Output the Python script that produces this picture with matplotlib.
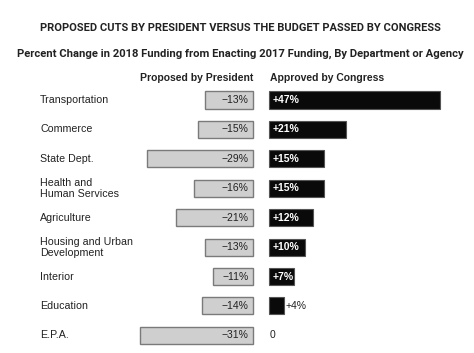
import matplotlib.pyplot as plt

depts = ['Transportation', 'Commerce', 'State Dept.', 'Health and\nHuman Services',
         'Agriculture', 'Housing and Urban\nDevelopment', 'Interior', 'Education', 'E.P.A.']
president = [-13, -15, -29, -16, -21, -13, -11, -14, -31]
congress = [47, 21, 15, 15, 12, 10, 7, 4, 0]

gap = 2.2
dark = '#222222'

fig = plt.figure(figsize=(4.74, 3.53), dpi=100)
ax = fig.add_axes([0, 0, 1, 1])
ax.set_xlim(-71.5, 58.4)
ax.set_ylim(8.6, -3.4)
ax.axis('off')

rows = list(range(len(depts)))
ax.barh(rows, president, left=-gap, height=0.58, color='#cfcfcf',
        edgecolor='#7a7a7a', linewidth=1)
pos = [i for i in rows if congress[i] > 0]
ax.barh(pos, [congress[i] for i in pos], left=gap, height=0.58, color='#0a0a0a',
        edgecolor='#555555', linewidth=0.8)

for i, (d, p, c) in enumerate(zip(depts, president, congress)):
    ax.text(-60.5, i, d, ha='left', va='center', fontsize=7.7, color=dark,
            family='Liberation Sans', linespacing=1.15)
    ax.text(-gap - 1.2, i, f'\u2212{abs(p)}%', ha='right', va='center',
            fontsize=7.5, color=dark, family='Liberation Sans')
    if c >= 7:
        ax.text(gap + 0.9, i, f'+{c}%', ha='left', va='center', fontsize=7.5,
                color='white', fontweight='bold', family='Liberation Sans')
    elif c > 0:
        ax.text(gap + c + 0.6, i, f'+{c}%', ha='left', va='center',
                fontsize=7.5, color=dark, family='Liberation Sans')
    else:
        ax.text(gap + 0.3, i, '0', ha='left', va='center', fontsize=7.5,
                color=dark, family='Liberation Sans')

ax.text(-2.0, -0.75, 'Proposed by President', ha='right', va='center',
        fontsize=7.5, fontweight='bold', color=dark, family='Liberation Sans')
ax.text(gap + 0.3, -0.75, 'Approved by Congress', ha='left', va='center',
        fontsize=7.5, fontweight='bold', color=dark, family='Liberation Sans')

fig.text(0.507, 0.921, 'PROPOSED CUTS BY PRESIDENT VERSUS THE BUDGET PASSED BY CONGRESS',
         ha='center', va='center', fontsize=8.0, fontweight='bold', color=dark,
         family='Roboto')
fig.text(0.508, 0.848, 'Percent Change in 2018 Funding from Enacting 2017 Funding, By Department or Agency',
         ha='center', va='center', fontsize=8.1, fontweight='bold', color=dark,
         family='Roboto')

fig.savefig('out.png', dpi=100)
